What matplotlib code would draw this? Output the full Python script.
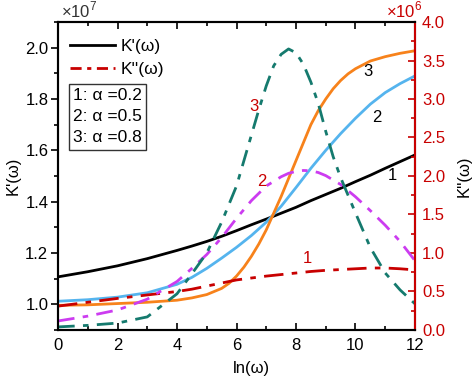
import numpy as np
import matplotlib
matplotlib.use("Agg")
import matplotlib.pyplot as plt
from matplotlib.lines import Line2D
from matplotlib.ticker import MultipleLocator

plt.rcParams['font.family'] = ['Liberation Sans', 'DejaVu Sans']
plt.rcParams['font.size'] = 12
plt.rcParams['mathtext.fontset'] = 'custom'
plt.rcParams['mathtext.rm'] = 'Liberation Sans'

# ln(w) grid used for the reading
x = [0, 1, 2, 3, 4, 4.5, 5, 5.5, 6, 6.5, 7, 7.5, 8, 8.5, 9, 9.5, 10, 10.5, 11, 11.5, 12]

# K'(w) in units of 1e7
k1_a02 = [1.107, 1.127, 1.150, 1.178, 1.210, 1.227, 1.245, 1.265, 1.287, 1.310, 1.332,
          1.355, 1.378, 1.404, 1.428, 1.452, 1.478, 1.503, 1.530, 1.556, 1.582]
k1_a05 = [1.012, 1.018, 1.028, 1.045, 1.078, 1.105, 1.140, 1.180, 1.222, 1.268, 1.320,
          1.382, 1.455, 1.530, 1.600, 1.665, 1.725, 1.780, 1.825, 1.860, 1.890]
x_o = [0, 1, 2, 3, 4, 4.5, 5, 5.5, 5.75, 6, 6.25, 6.5, 6.75, 7, 7.5, 8, 8.5, 8.75, 9,
       9.25, 9.5, 9.75, 10, 10.5, 11, 11.5, 12]
k1_a08 = [0.996, 0.998, 1.003, 1.008, 1.016, 1.025, 1.038, 1.062, 1.082, 1.110, 1.145,
          1.187, 1.235, 1.290, 1.420, 1.560, 1.700, 1.755, 1.800, 1.840, 1.872, 1.898,
          1.918, 1.948, 1.965, 1.978, 1.988]

# K''(w) in units of 1e6
k2_a02 = [0.31, 0.36, 0.41, 0.455, 0.50, 0.53, 0.57, 0.61, 0.65, 0.675, 0.70,
          0.72, 0.74, 0.76, 0.775, 0.785, 0.795, 0.805, 0.805, 0.795, 0.78]
x_m = [0, 1, 2, 3, 4, 4.5, 5, 5.5, 6, 6.5, 7, 7.5, 7.75, 8, 8.25, 8.5, 8.75, 9, 9.5,
       10, 10.5, 11, 11.5, 12]
k2_a05 = [0.117, 0.18, 0.26, 0.40, 0.63, 0.80, 0.98, 1.20, 1.45, 1.68, 1.87,
          1.99, 2.035, 2.06, 2.072, 2.068, 2.045, 2.005, 1.89, 1.73, 1.55, 1.36, 1.15, 0.90]
x_g = [0, 1, 2, 3, 4, 4.5, 5, 5.5, 6, 6.25, 6.5, 6.75, 7, 7.25, 7.5, 7.75, 8, 8.25,
       8.5, 8.75, 9, 9.25, 9.5, 9.75, 10, 10.5, 11, 11.5, 12]
k2_a08 = [0.04, 0.06, 0.09, 0.17, 0.47, 0.73, 1.00, 1.40, 1.87, 2.20, 2.53, 2.86,
          3.17, 3.43, 3.58, 3.65, 3.60, 3.45, 3.22, 2.94, 2.58, 2.25, 1.98, 1.75,
          1.52, 1.07, 0.74, 0.52, 0.34]

black = 'black'
blue = '#55b4ee'
orange = '#f7821b'
dred = '#c80000'
magenta = '#cc3cf0'
teal = '#157a6e'

fig = plt.figure(figsize=(4.74, 3.80), dpi=100)
ax = fig.add_axes([0.1224, 0.1316, 0.7531, 0.8105])
ax2 = ax.twinx()

ax.plot(x, k1_a02, color=black, lw=2)
ax.plot(x, k1_a05, color=blue, lw=2)
ax.plot(x_o, k1_a08, color=orange, lw=2)

ax2.plot(x, k2_a02, color=dred, lw=2, dashes=(7, 3, 2, 3))
ax2.plot(x_m, k2_a05, color=magenta, lw=2, dashes=(6, 3, 2, 3))
ax2.plot(x_g, k2_a08, color=teal, lw=2, dashes=(6, 3, 2, 3))

ax.set_xlim(0, 12)
ax.set_ylim(0.9, 2.1)
ax2.set_ylim(0, 4)

ax.xaxis.set_major_locator(MultipleLocator(2))
ax.xaxis.set_minor_locator(MultipleLocator(1))
ax.yaxis.set_major_locator(MultipleLocator(0.2))
ax.yaxis.set_minor_locator(MultipleLocator(0.1))
ax2.yaxis.set_major_locator(MultipleLocator(0.5))
ax2.yaxis.set_minor_locator(MultipleLocator(0.25))
ax.yaxis.set_major_formatter(plt.FormatStrFormatter('%.1f'))
ax2.yaxis.set_major_formatter(plt.FormatStrFormatter('%.1f'))

ax.tick_params(axis='x', which='both', direction='in', top=True, width=1.2, pad=6)
ax.tick_params(axis='x', which='major', length=5)
ax.tick_params(axis='x', which='minor', length=3)
ax.tick_params(axis='y', which='both', direction='out', width=1.2, pad=2)
ax.tick_params(axis='y', which='major', length=5)
ax.tick_params(axis='y', which='minor', length=3)
ax2.tick_params(axis='y', which='both', direction='in', colors=dred, width=1.2, pad=5)
ax2.tick_params(axis='y', which='major', length=5)
ax2.tick_params(axis='y', which='minor', length=3)

for s in ax.spines.values():
    s.set_linewidth(1.5)
for s in ax2.spines.values():
    s.set_linewidth(1.5)
ax2.spines['right'].set_color(dred)

ax.set_xlabel('ln(ω)')
ax.xaxis.set_label_coords(0.543, -0.1)
ax.set_ylabel("K'(ω)")
ax.yaxis.set_label_coords(-0.105, 0.5)
ax2.set_ylabel("K''(ω)")
ax2.yaxis.set_label_coords(1.116, 0.5)

fig.text(0.128, 0.955, '×10$^7$', fontsize=12, color='#333333')
fig.text(0.815, 0.955, '×10$^6$', fontsize=12, color=dred)

# curve labels
ax.text(11.23, 1.50, '1', ha='center', va='center')
ax.text(10.72, 1.726, '2', ha='center', va='center')
ax.text(10.42, 1.909, '3', ha='center', va='center')
ax2.text(8.37, 0.93, '1', color=dred, ha='center', va='center')
ax2.text(6.86, 1.93, '2', color=dred, ha='center', va='center')
ax2.text(6.59, 2.90, '3', color=dred, ha='center', va='center')

handles = [Line2D([], [], color=black, lw=2),
           Line2D([], [], color=dred, lw=2, dashes=(4, 2, 1.5, 2))]
ax.legend(handles, ["K'(ω)", "K''(ω)"], loc='upper left', frameon=False,
          fontsize=12.5, handlelength=2.6, handletextpad=0.3, borderaxespad=0.3,
          bbox_to_anchor=(0.0, 0.985), labelspacing=0.45)

ax.text(0.5, 1.842, '1: α =0.2\n2: α =0.5\n3: α =0.8', va='top', ha='left',
        fontsize=12.5, linespacing=1.5,
        bbox=dict(boxstyle='square,pad=0.25', fc='white', ec='#333333', lw=1))

fig.savefig('out.png', dpi=100)
